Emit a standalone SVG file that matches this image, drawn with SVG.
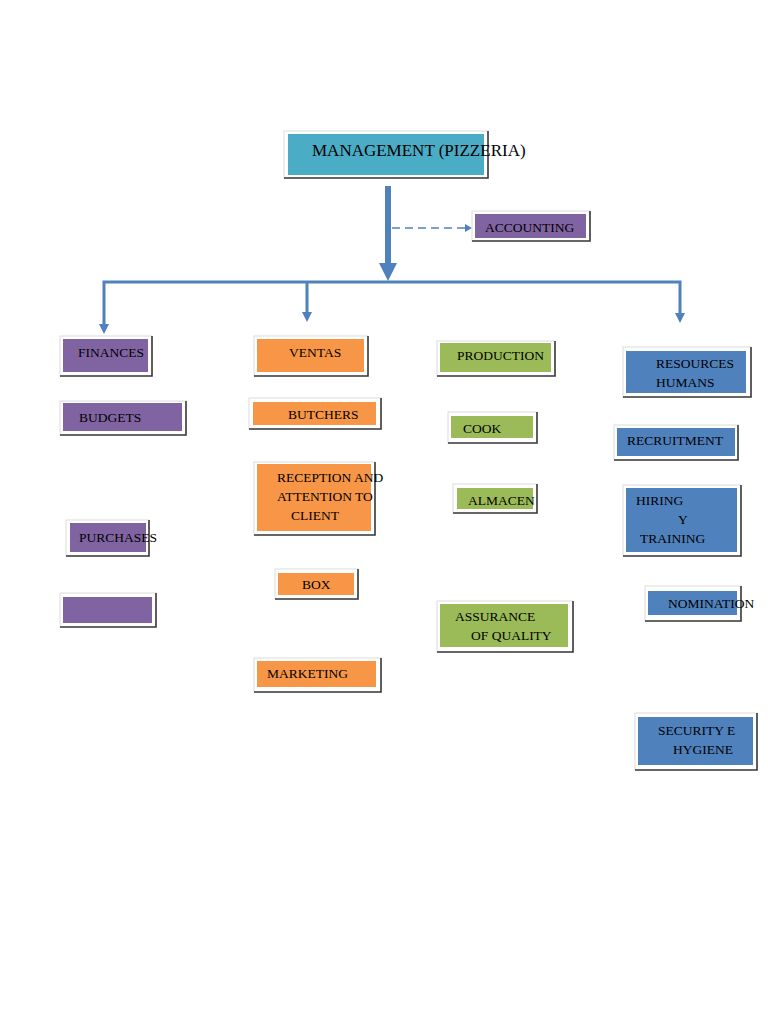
<svg xmlns="http://www.w3.org/2000/svg" width="768" height="1024" viewBox="0 0 768 1024">
<style>
.f{fill:#ffffff;stroke:#dcdcdc;stroke-width:1}
.s{fill:none;stroke:#3a3a3a;stroke-width:1.6}
.teal{fill:#4BACC6}
.pur{fill:#8064A2}
.org{fill:#F79646}
.grn{fill:#9BBB59}
.blu{fill:#4F81BD}
text{font-family:"Liberation Serif","Times New Roman",serif;font-size:13.5px;fill:#000}
.big{font-size:17px}
.ln{fill:none;stroke:#4F81BD;stroke-width:3}
.ah{fill:#4F81BD}
</style>
<rect width="768" height="1024" fill="#ffffff"/>
<g id="connectors">
<line x1="388" y1="186" x2="388" y2="266" stroke="#4F81BD" stroke-width="6"/>
<polygon class="ah" points="379,263 397,263 388,281"/>
<line x1="392" y1="228" x2="465" y2="228" stroke="#4F81BD" stroke-width="1.3" stroke-dasharray="8,5"/>
<polygon class="ah" points="465,224 472,228 465,232"/>
<polyline class="ln" points="104,326 104,282 680,282 680,315"/>
<line class="ln" x1="307" y1="282" x2="307" y2="314"/>
<polygon class="ah" points="99,324 109,324 104,334"/>
<polygon class="ah" points="302,312 312,312 307,322"/>
<polygon class="ah" points="675,313 685,313 680,323"/>
</g>
<g id="management">
<rect class="f" x="284" y="131" width="204" height="47"/>
<path class="s" d="M488 131V178H284"/>
<rect class="teal" x="288" y="134" width="196" height="41"/>
<text class="big" x="312" y="156">MANAGEMENT (PIZZERIA)</text>
</g>
<g id="accounting">
<rect class="f" x="472" y="211" width="118" height="30"/>
<path class="s" d="M590 211V241H472"/>
<rect class="pur" x="475" y="214" width="111" height="24"/>
<text x="485" y="232">ACCOUNTING</text>
</g>
<g id="finances">
<rect class="f" x="60" y="336" width="92" height="40"/>
<path class="s" d="M152 336V376H60"/>
<rect class="pur" x="63" y="339" width="85" height="33"/>
<text x="78" y="357">FINANCES</text>
</g>
<g id="budgets">
<rect class="f" x="60" y="401" width="126" height="34"/>
<path class="s" d="M186 401V435H60"/>
<rect class="pur" x="63" y="403" width="119" height="28"/>
<text x="79" y="422">BUDGETS</text>
</g>
<g id="purchases">
<rect class="f" x="66" y="520" width="83" height="36"/>
<path class="s" d="M149 520V556H66"/>
<rect class="pur" x="70" y="523" width="76" height="29"/>
<text x="79" y="542">PURCHASES</text>
</g>
<g id="blank">
<rect class="f" x="60" y="593" width="96" height="34"/>
<path class="s" d="M156 593V627H60"/>
<rect class="pur" x="63" y="597" width="89" height="26"/>
</g>
<g id="ventas">
<rect class="f" x="254" y="336" width="114" height="40"/>
<path class="s" d="M368 336V376H254"/>
<rect class="org" x="257" y="339" width="107" height="33"/>
<text x="289" y="357">VENTAS</text>
</g>
<g id="butchers">
<rect class="f" x="249" y="398" width="132" height="31"/>
<path class="s" d="M381 398V429H249"/>
<rect class="org" x="253" y="402" width="123" height="23"/>
<text x="288" y="419">BUTCHERS</text>
</g>
<g id="reception">
<rect class="f" x="254" y="462" width="121" height="73"/>
<path class="s" d="M375 462V535H254"/>
<rect class="org" x="257" y="464" width="114" height="67"/>
<text x="277" y="482">RECEPTION AND</text>
<text x="277" y="501">ATTENTION TO</text>
<text x="291" y="520">CLIENT</text>
</g>
<g id="box">
<rect class="f" x="275" y="569" width="83" height="30"/>
<path class="s" d="M358 569V599H275"/>
<rect class="org" x="278" y="573" width="76" height="22"/>
<text x="302" y="589">BOX</text>
</g>
<g id="marketing">
<rect class="f" x="254" y="658" width="127" height="34"/>
<path class="s" d="M381 658V692H254"/>
<rect class="org" x="257" y="661" width="119" height="26"/>
<text x="267" y="678">MARKETING</text>
</g>
<g id="production">
<rect class="f" x="437" y="341" width="118" height="35"/>
<path class="s" d="M555 341V376H437"/>
<rect class="grn" x="440" y="343" width="111" height="29"/>
<text x="457" y="360">PRODUCTION</text>
</g>
<g id="cook">
<rect class="f" x="448" y="412" width="89" height="31"/>
<path class="s" d="M537 412V443H448"/>
<rect class="grn" x="451" y="416" width="82" height="22"/>
<text x="463" y="433">COOK</text>
</g>
<g id="almacen">
<rect class="f" x="453" y="484" width="84" height="29"/>
<path class="s" d="M537 484V513H453"/>
<rect class="grn" x="457" y="488" width="76" height="21"/>
<text x="468" y="505">ALMACEN</text>
</g>
<g id="assurance">
<rect class="f" x="437" y="601" width="136" height="51"/>
<path class="s" d="M573 601V652H437"/>
<rect class="grn" x="440" y="604" width="128" height="43"/>
<text x="455" y="621">ASSURANCE</text>
<text x="471" y="640">OF QUALITY</text>
</g>
<g id="resources">
<rect class="f" x="623" y="347" width="128" height="50"/>
<path class="s" d="M751 347V397H623"/>
<rect class="blu" x="626" y="351" width="120" height="42"/>
<text x="656" y="368">RESOURCES</text>
<text x="656" y="387">HUMANS</text>
</g>
<g id="recruitment">
<rect class="f" x="614" y="425" width="124" height="35"/>
<path class="s" d="M738 425V460H614"/>
<rect class="blu" x="617" y="428" width="118" height="28"/>
<text x="627" y="445">RECRUITMENT</text>
</g>
<g id="hiring">
<rect class="f" x="623" y="485" width="118" height="71"/>
<path class="s" d="M741 485V556H623"/>
<rect class="blu" x="626" y="488" width="111" height="64"/>
<text x="636" y="505">HIRING</text>
<text x="678" y="524">Y</text>
<text x="640" y="543">TRAINING</text>
</g>
<g id="nomination">
<rect class="f" x="645" y="586" width="96" height="35"/>
<path class="s" d="M741 586V621H645"/>
<rect class="blu" x="648" y="591" width="89" height="24"/>
<text x="668" y="608">NOMINATION</text>
</g>
<g id="security">
<rect class="f" x="635" y="713" width="122" height="57"/>
<path class="s" d="M757 713V770H635"/>
<rect class="blu" x="638" y="717" width="115" height="48"/>
<text x="658" y="735">SECURITY E</text>
<text x="673" y="754">HYGIENE</text>
</g>
</svg>
